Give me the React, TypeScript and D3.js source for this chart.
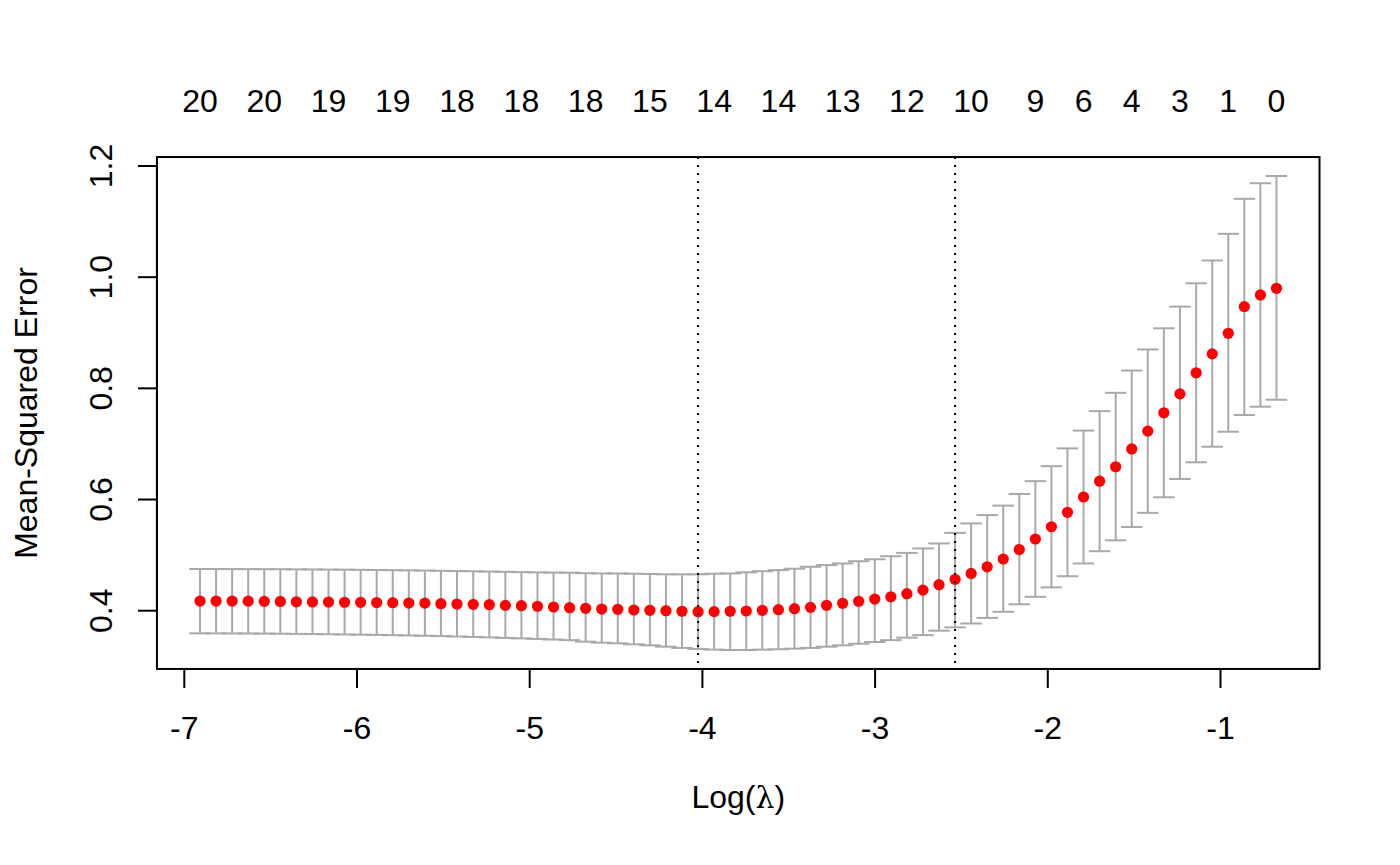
import React from 'react';
import * as d3 from 'd3';

// log(lambda) values of the path (left to right)
const logLambda = [
  -6.909, -6.816, -6.723, -6.630, -6.537, -6.444, -6.351, -6.258, -6.165, -6.072,
  -5.979, -5.886, -5.793, -5.700, -5.607, -5.514, -5.421, -5.327, -5.234, -5.141,
  -5.048, -4.955, -4.862, -4.769, -4.676, -4.583, -4.490, -4.397, -4.304, -4.211,
  -4.118, -4.025, -3.932, -3.839, -3.746, -3.653, -3.560, -3.467, -3.374, -3.281,
  -3.188, -3.095, -3.002, -2.909, -2.816, -2.723, -2.630, -2.537, -2.444, -2.351,
  -2.258, -2.165, -2.072, -1.979, -1.886, -1.793, -1.700, -1.607, -1.514, -1.421,
  -1.328, -1.235, -1.141, -1.048, -0.955, -0.862, -0.769, -0.676,
];

// mean cross-validated error
const cvm = [
  0.4174, 0.4174, 0.4174, 0.4172, 0.4168, 0.4166, 0.4160, 0.4158, 0.4155, 0.4152,
  0.4150, 0.4147, 0.4144, 0.4138, 0.4136, 0.4126, 0.4120, 0.4114, 0.4108, 0.4096,
  0.4090, 0.4080, 0.4067, 0.4054, 0.4043, 0.4030, 0.4025, 0.4013, 0.4007, 0.4000,
  0.3990, 0.3982, 0.3984, 0.3990, 0.3995, 0.4007, 0.4018, 0.4036, 0.4060, 0.4097,
  0.4133, 0.4170, 0.4210, 0.4250, 0.4306, 0.4370, 0.4468, 0.4565, 0.4670, 0.4790,
  0.4930, 0.5100, 0.5290, 0.5510, 0.5770, 0.6045, 0.6330, 0.6590, 0.6910, 0.7230,
  0.7560, 0.7900, 0.8280, 0.8620, 0.8990, 0.9470, 0.9680, 0.9800,
];

// upper curve (cvm + cvsd)
const cvup = [
  0.4750, 0.4750, 0.4749, 0.4748, 0.4747, 0.4746, 0.4744, 0.4742, 0.4740, 0.4738,
  0.4735, 0.4732, 0.4729, 0.4726, 0.4722, 0.4718, 0.4713, 0.4709, 0.4704, 0.4699,
  0.4694, 0.4689, 0.4686, 0.4683, 0.4675, 0.4670, 0.4670, 0.4666, 0.4660, 0.4655,
  0.4655, 0.4655, 0.4666, 0.4670, 0.4690, 0.4710, 0.4730, 0.4755, 0.4790, 0.4820,
  0.4850, 0.4890, 0.4925, 0.4980, 0.5040, 0.5120, 0.5210, 0.5400, 0.5570, 0.5720,
  0.5890, 0.6100, 0.6330, 0.6600, 0.6920, 0.7240, 0.7590, 0.7920, 0.8320, 0.8700,
  0.9080, 0.9470, 0.9890, 1.0300, 1.0780, 1.1410, 1.1690, 1.1820,
];

// lower curve (cvm - cvsd)
const cvlo = [
  0.3593, 0.3592, 0.3591, 0.3590, 0.3588, 0.3586, 0.3583, 0.3580, 0.3577, 0.3573,
  0.3569, 0.3565, 0.3560, 0.3555, 0.3549, 0.3543, 0.3536, 0.3528, 0.3520, 0.3511,
  0.3502, 0.3492, 0.3481, 0.3470, 0.3443, 0.3425, 0.3413, 0.3395, 0.3377, 0.3353,
  0.3330, 0.3310, 0.3300, 0.3293, 0.3293, 0.3300, 0.3306, 0.3317, 0.3330, 0.3353,
  0.3377, 0.3406, 0.3437, 0.3470, 0.3515, 0.3560, 0.3640, 0.3700, 0.3770, 0.3870,
  0.3980, 0.4115, 0.4250, 0.4420, 0.4620, 0.4850, 0.5070, 0.5266, 0.5505, 0.5760,
  0.6040, 0.6370, 0.6670, 0.6950, 0.7220, 0.7520, 0.7670, 0.7795,
];

// number of non-zero coefficients shown on the top axis
const nzeroIndex = [0, 4, 8, 12, 16, 20, 24, 28, 32, 36, 40, 44, 48, 52, 55, 58, 61, 64, 67];
const nzeroLabels = ['20', '20', '19', '19', '18', '18', '18', '15', '14', '14', '13', '12', '10', '9', '6', '4', '3', '1', '0'];

const xTicks = [-7, -6, -5, -4, -3, -2, -1];
const yTicks = [0.4, 0.6, 0.8, 1.0, 1.2];
const yTickLabels = ['0.4', '0.6', '0.8', '1.0', '1.2'];

const lambdaMinIndex = 31;
const lambda1seIndex = 47;

const FONT = '"Liberation Sans", Arial, Helvetica, sans-serif';

export default function App() {
  const W = 1400;
  const H = 865;

  const x = d3.scaleLinear().domain([-7, -1]).range([184.3, 1220.5]);
  const y = d3.scaleLinear().domain([0.4, 1.2]).range([610.7, 166]);

  const [xmin, xmax] = d3.extent(logLambda) as [number, number];
  const xr = xmax - xmin;
  const ymin = d3.min(cvlo) as number;
  const ymax = d3.max(cvup) as number;
  const yr = ymax - ymin;

  const left = x(xmin - 0.04 * xr);
  const right = x(xmax + 0.04 * xr);
  const top = y(ymax + 0.04 * yr);
  const bottom = y(ymin - 0.04 * yr);

  const barw = x(xmin + xr * 0.01) - x(xmin);
  const grey = '#A9A9A9';

  return (
    <svg
      width={W}
      height={H}
      viewBox={`0 0 ${W} ${H}`}
      style={{ position: 'absolute', left: 0, top: 0, background: '#fff' }}
      fontFamily={FONT}
    >
      <rect x={0} y={0} width={W} height={H} fill="#fff" />

      {/* error bars */}
      <g stroke={grey} strokeWidth={2} fill="none">
        {logLambda.map((v, i) => {
          const cx = x(v);
          return (
            <g key={i}>
              <line x1={cx} x2={cx} y1={y(cvup[i])} y2={y(cvlo[i])} />
              <line x1={cx - barw} x2={cx + barw} y1={y(cvup[i])} y2={y(cvup[i])} />
              <line x1={cx - barw} x2={cx + barw} y1={y(cvlo[i])} y2={y(cvlo[i])} />
            </g>
          );
        })}
      </g>

      {/* points */}
      <g fill="#FF0000">
        {logLambda.map((v, i) => (
          <circle key={i} cx={x(v)} cy={y(cvm[i])} r={5.6} />
        ))}
      </g>

      {/* lambda.min and lambda.1se */}
      <g stroke="#000" strokeWidth={2} strokeDasharray="2,6">
        {[lambdaMinIndex, lambda1seIndex].map((k) => (
          <line key={k} x1={x(logLambda[k])} x2={x(logLambda[k])} y1={top} y2={bottom} />
        ))}
      </g>

      {/* box */}
      <rect x={left} y={top} width={right - left} height={bottom - top} fill="none" stroke="#000" strokeWidth={2} />

      {/* bottom axis */}
      <g stroke="#000" strokeWidth={2}>
        <line x1={x(xTicks[0])} x2={x(xTicks[xTicks.length - 1])} y1={bottom} y2={bottom} />
        {xTicks.map((t) => (
          <line key={t} x1={x(t)} x2={x(t)} y1={bottom} y2={bottom + 19} />
        ))}
      </g>
      <g fontSize={32} textAnchor="middle" fill="#000">
        {xTicks.map((t) => (
          <text key={t} x={x(t)} y={739}>{String(t)}</text>
        ))}
      </g>

      {/* left axis */}
      <g stroke="#000" strokeWidth={2}>
        <line x1={left} x2={left} y1={y(yTicks[0])} y2={y(yTicks[yTicks.length - 1])} />
        {yTicks.map((t) => (
          <line key={t} x1={left} x2={left - 19} y1={y(t)} y2={y(t)} />
        ))}
      </g>
      <g fontSize={32} textAnchor="middle" fill="#000">
        {yTicks.map((t, i) => (
          <text key={t} transform={`translate(112,${y(t)}) rotate(-90)`}>{yTickLabels[i]}</text>
        ))}
      </g>

      {/* top axis: number of nonzero coefficients */}
      <g fontSize={32} textAnchor="middle" fill="#000">
        {nzeroIndex.map((k, i) => (
          <text key={k} x={x(logLambda[k])} y={112}>{nzeroLabels[i]}</text>
        ))}
      </g>

      {/* axis titles */}
      <text x={(left + right) / 2} y={808} fontSize={32} textAnchor="middle" fill="#000">
        Log(<tspan fontFamily='"DejaVu Serif", "Liberation Serif", serif' fontSize={30}>λ</tspan>)
      </text>
      <text
        transform={`translate(37,${(top + bottom) / 2}) rotate(-90)`}
        fontSize={32}
        textAnchor="middle"
        fill="#000"
      >
        Mean-Squared Error
      </text>
    </svg>
  );
}
